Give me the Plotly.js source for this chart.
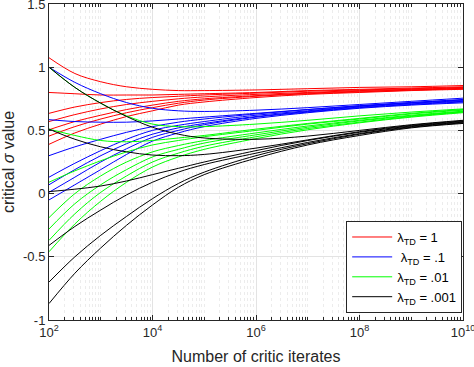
<!DOCTYPE html>
<html>
<head>
<meta charset="utf-8">
<script src="https://cdn.plot.ly/plotly-3.0.1.min.js"></script>
<style>html,body{margin:0;padding:0;background:#fff;}#chart{width:474px;height:367px;}</style>
</head>
<body>
<div id="chart"></div>
<script>
// Number of critic iterates (sample points)
const iterates = [100, 316.23, 1000, 3162.3, 1e4, 31623, 1e5, 1e6, 1e7, 1e8, 1e9, 1e10];

// lambda_TD = 1 (red)
const lambda1 = [
  [1.075, 0.95, 0.885, 0.845, 0.825, 0.815, 0.815, 0.82, 0.83, 0.84, 0.845, 0.855],
  [0.80, 0.79, 0.78, 0.78, 0.78, 0.785, 0.79, 0.80, 0.815, 0.825, 0.835, 0.845],
  [0.635, 0.685, 0.72, 0.745, 0.76, 0.77, 0.78, 0.795, 0.81, 0.82, 0.83, 0.84],
  [0.57, 0.625, 0.67, 0.705, 0.73, 0.75, 0.765, 0.785, 0.80, 0.815, 0.825, 0.837],
  [0.505, 0.57, 0.62, 0.665, 0.70, 0.73, 0.75, 0.775, 0.795, 0.81, 0.82, 0.833],
  [0.455, 0.53, 0.59, 0.64, 0.68, 0.715, 0.74, 0.77, 0.79, 0.805, 0.818, 0.83],
  [0.39, 0.48, 0.55, 0.61, 0.655, 0.70, 0.725, 0.76, 0.785, 0.80, 0.815, 0.825]
];
// lambda_TD = .1 (blue)
const lambda01 = [
  [1.0, 0.88, 0.79, 0.72, 0.675, 0.655, 0.65, 0.66, 0.68, 0.705, 0.73, 0.755],
  [0.585, 0.57, 0.565, 0.565, 0.575, 0.59, 0.605, 0.635, 0.665, 0.695, 0.72, 0.745],
  [0.30, 0.37, 0.43, 0.485, 0.53, 0.565, 0.59, 0.63, 0.665, 0.695, 0.72, 0.74],
  [0.13, 0.24, 0.34, 0.43, 0.50, 0.54, 0.57, 0.62, 0.655, 0.69, 0.715, 0.735],
  [0.07, 0.19, 0.30, 0.395, 0.47, 0.52, 0.555, 0.61, 0.65, 0.685, 0.71, 0.73],
  [0.01, 0.13, 0.25, 0.355, 0.445, 0.50, 0.545, 0.605, 0.645, 0.68, 0.705, 0.725],
  [-0.05, 0.07, 0.19, 0.31, 0.415, 0.48, 0.53, 0.595, 0.64, 0.675, 0.70, 0.718]
];
// lambda_TD = .01 (green)
const lambda001 = [
  [1.0, 0.84, 0.715, 0.615, 0.55, 0.53, 0.53, 0.55, 0.58, 0.615, 0.645, 0.67],
  [0.51, 0.46, 0.42, 0.41, 0.42, 0.44, 0.46, 0.51, 0.555, 0.595, 0.635, 0.665],
  [0.09, 0.18, 0.26, 0.33, 0.385, 0.42, 0.45, 0.50, 0.55, 0.59, 0.63, 0.66],
  [-0.19, 0.0, 0.14, 0.25, 0.33, 0.38, 0.42, 0.48, 0.535, 0.58, 0.62, 0.652],
  [-0.28, -0.08, 0.07, 0.19, 0.29, 0.35, 0.40, 0.465, 0.525, 0.575, 0.615, 0.648],
  [-0.37, -0.16, 0.01, 0.14, 0.25, 0.32, 0.375, 0.45, 0.515, 0.565, 0.61, 0.645],
  [-0.46, -0.24, -0.06, 0.09, 0.21, 0.29, 0.35, 0.435, 0.505, 0.56, 0.605, 0.64]
];
// lambda_TD = .001 (black)
const lambda0001 = [
  [1.0, 0.84, 0.715, 0.61, 0.525, 0.47, 0.44, 0.43, 0.455, 0.50, 0.545, 0.58],
  [0.51, 0.43, 0.37, 0.33, 0.305, 0.30, 0.31, 0.36, 0.425, 0.49, 0.54, 0.575],
  [0.016, 0.035, 0.06, 0.10, 0.15, 0.20, 0.25, 0.34, 0.42, 0.485, 0.535, 0.57],
  [-0.41, -0.26, -0.13, -0.01, 0.09, 0.17, 0.23, 0.32, 0.405, 0.475, 0.53, 0.565],
  [-0.70, -0.50, -0.33, -0.18, -0.04, 0.08, 0.17, 0.30, 0.395, 0.47, 0.525, 0.56],
  [-0.87, -0.63, -0.43, -0.25, -0.09, 0.05, 0.15, 0.28, 0.385, 0.46, 0.52, 0.555]
];

const legendNames = ['λ<sub>TD</sub> = 1', ' λ<sub>TD</sub> = .1', 'λ<sub>TD</sub> = .01', 'λ<sub>TD</sub> = .001'];
const xTickVals = [1e2, 1e4, 1e6, 1e8, 1e10];
const xTickText = ['10<sup>2</sup>', '10<sup>4</sup>', '10<sup>6</sup>', '10<sup>8</sup>', '10<sup>10</sup>'];
const yTickVals = [-1, -0.5, 0, 0.5, 1, 1.5];
const yTickText = ['-1', '-0.5', '0', '0.5', '1', '1.5'];

const groups = [
  {data: lambda1, color: '#ff0000'},
  {data: lambda01, color: '#0000ff'},
  {data: lambda001, color: '#00ff00'},
  {data: lambda0001, color: '#000000'}
];

const traces = [];
groups.forEach((g, gi) => {
  g.data.forEach((ys, i) => {
    traces.push({
      x: iterates, y: ys, type: 'scatter', mode: 'lines',
      line: {color: g.color, width: 1, shape: 'spline', smoothing: 1},
      name: legendNames[gi], legendgroup: 'g' + gi, showlegend: i === 0,
      hoverinfo: 'skip'
    });
  });
});

const axisCommon = {
  showline: true, linecolor: '#262626', linewidth: 1, mirror: 'allticks',
  ticks: 'inside', ticklen: 5, tickcolor: '#262626', zeroline: false,
  gridcolor: '#e3e3e3', gridwidth: 1, ticklabeloverflow: 'allow',
  tickfont: {family: 'Liberation Sans, Arial, sans-serif', size: 13, color: '#262626'}
};

const layout = {
  width: 474, height: 367,
  margin: {l: 49, r: 11, t: 4, b: 47},
  paper_bgcolor: '#ffffff', plot_bgcolor: '#ffffff',
  font: {family: 'Liberation Sans, Arial, sans-serif', color: '#262626'},
  xaxis: Object.assign({}, axisCommon, {
    type: 'log', range: [2, 10],
    tickvals: xTickVals, ticktext: xTickText,
    minor: {dtick: 'D1', ticks: 'inside', ticklen: 3, tickcolor: '#262626',
            showgrid: true, gridcolor: '#ececec', griddash: 'dot', gridwidth: 1},
    title: {text: 'Number of critic iterates', font: {size: 16, color: '#262626'}, standoff: 12}
  }),
  yaxis: Object.assign({}, axisCommon, {
    range: [-1, 1.5], tickvals: yTickVals, ticktext: yTickText,
    title: {text: 'critical <i>σ</i> value', font: {size: 16, color: '#262626'}, standoff: 6}
  }),
  showlegend: true,
  legend: {
    x: 0.998, xanchor: 'right', y: 0.022, yanchor: 'bottom',
    bgcolor: '#ffffff', bordercolor: '#262626', borderwidth: 1,
    font: {family: 'Liberation Sans, Arial, sans-serif', size: 13, color: '#000'},
    tracegroupgap: 0, itemwidth: 40
  }
};

Plotly.newPlot('chart', traces, layout, {staticPlot: true, displayModeBar: false});
</script>
</body>
</html>
